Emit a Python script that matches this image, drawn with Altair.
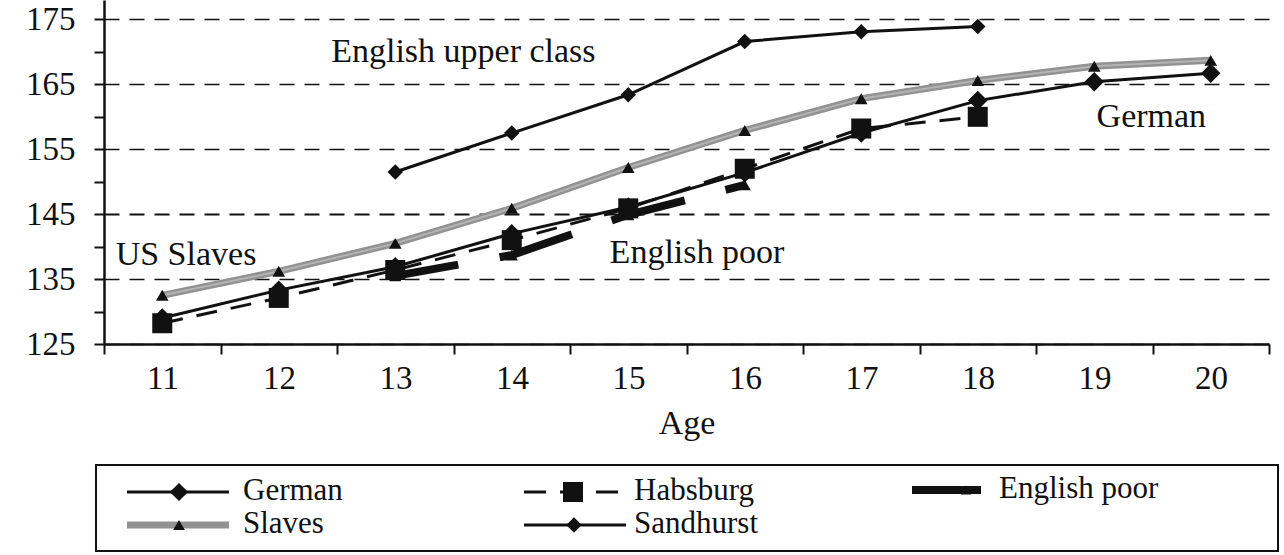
import altair as alt
import pandas as pd

FONT = "Liberation Serif"
FS_TICK = 33
FS_TEXT = 34

# ---- data ----
ages = [11, 12, 13, 14, 15, 16, 17, 18, 19, 20]
german = [129.0, 133.3, 136.9, 142.0, 146.1, 151.4, 157.5, 162.5, 165.4, 166.7]
slaves = [132.5, 136.2, 140.5, 145.9, 152.2, 157.9, 162.8, 165.6, 167.8, 168.7]
habsburg_ages = [11, 12, 13, 14, 15, 16, 17, 18]
habsburg = [128.2, 132.1, 136.4, 141.0, 145.9, 152.0, 158.2, 160.0]
poor_ages = [13, 14, 15, 16]
english_poor = [135.5, 138.7, 144.9, 149.5]
sandhurst_ages = [13, 14, 15, 16, 17, 18]
sandhurst = [151.5, 157.5, 163.4, 171.6, 173.1, 173.9]

legend_names = ["German", "Habsburg", "English poor", "Slaves", "Sandhurst"]

annot_text = ["English upper class", "US Slaves", "English poor", "German"]
annot_x = [12.45, 10.6, 14.84, 19.02]
annot_y = [168.4, 137.2, 137.5, 158.4]

x_ticks = [10.5, 11.5, 12.5, 13.5, 14.5, 15.5, 16.5, 17.5, 18.5, 19.5, 20.5]
y_ticks = [125, 130, 135, 140, 145, 150, 155, 160, 165, 170, 175]

W, H = 1165, 344

x_enc = alt.X(
    "age:Q",
    scale=alt.Scale(domain=[10.5, 20.5], nice=False, zero=False),
    axis=alt.Axis(
        values=x_ticks,
        # label each band centre: label drawn at the tick on the band's right, shifted left
        labelExpr="datum.value > 11 ? format(datum.value - 0.5, 'd') : ''",
        labelOffset=-58,
        labelFlush=False,
        labelOverlap=False,
        labelFont=FONT, labelFontSize=FS_TICK, labelColor="#111",
        labelPadding=8,
        tickSize=10, tickWidth=2, tickColor="#111",
        domainWidth=2.5, domainColor="#111",
        grid=False,
        title="Age", titleFont=FONT, titleFontSize=FS_TEXT, titleFontWeight="normal",
        titleColor="#111", titlePadding=11,
    ),
)

y_enc = alt.Y(
    "height:Q",
    scale=alt.Scale(domain=[125, 178], nice=False, zero=False),
    axis=alt.Axis(
        values=y_ticks,
        labelExpr="datum.value % 10 == 5 ? datum.label : ''",
        labelFont=FONT, labelFontSize=FS_TICK, labelColor="#111",
        labelPadding=19,
        tickSize=10, tickWidth=2, tickColor="#111",
        domainWidth=2.5, domainColor="#111",
        grid=True, gridColor="#111", gridDash=[15, 10],
        gridOpacity=alt.condition("datum.value % 10 == 5", alt.value(1), alt.value(0)),
        gridWidth=alt.condition("datum.value == 145", alt.value(2.2), alt.value(1.3)),
        title=None,
    ),
)


def frame(xs, ys):
    return pd.DataFrame({"age": xs, "height": ys})


def series(df, line_kw, point_kw):
    base = alt.Chart(df)
    ln = base.mark_line(**line_kw).encode(x=x_enc, y=y_enc)
    pt = base.mark_point(filled=True, opacity=1, **point_kw).encode(x=x_enc, y=y_enc)
    return ln, pt


g_ln, g_pt = series(frame(ages, german),
                    dict(color="#111", strokeWidth=3),
                    dict(shape="diamond", size=380, color="#111"))
h_ln, h_pt = series(frame(habsburg_ages, habsburg),
                    dict(color="#111", strokeWidth=3, strokeDash=[21, 14]),
                    dict(shape="square", size=400, color="#111"))
p_ln, p_pt = series(frame(poor_ages, english_poor),
                    dict(color="#111", strokeWidth=8, strokeDash=[76, 42], strokeDashOffset=12, strokeCap="butt"),
                    dict(shape="triangle-up", size=150, color="#111"))
s_df = frame(ages, slaves)
s_ln_outer = alt.Chart(s_df).mark_line(color="#929292", strokeWidth=7).encode(x=x_enc, y=y_enc)
s_ln_inner = alt.Chart(s_df).mark_line(color="#b4b4b4", strokeWidth=2).encode(x=x_enc, y=y_enc)
s_pt = alt.Chart(s_df).mark_point(filled=True, opacity=1, shape="triangle-up", size=160, color="#111").encode(x=x_enc, y=y_enc)
d_ln, d_pt = series(frame(sandhurst_ages, sandhurst),
                    dict(color="#111", strokeWidth=3),
                    dict(shape="diamond", size=240, color="#111"))

annot = alt.Chart(pd.DataFrame({"t": annot_text, "age": annot_x, "height": annot_y})).mark_text(
    align="left", baseline="alphabetic", font=FONT, fontSize=FS_TEXT, color="#111"
).encode(x=x_enc, y=y_enc, text="t:N")

main = alt.layer(
    g_ln, h_ln, p_ln, s_ln_outer, s_ln_inner, d_ln,
    g_pt, h_pt, p_pt, s_pt, d_pt, annot
).properties(width=W, height=H)

# ---- hand-built legend (box + swatches) ----
LH = 86
box = alt.Chart(pd.DataFrame({"n": [0]})).mark_rect(
    fill="white", stroke="#111", strokeWidth=2
).encode(x=alt.value(-8), x2=alt.value(1174), y=alt.value(0), y2=alt.value(LH))


def legend_item(i, x1, x2, mx, tx, y, line_kw, pt_kw):
    d = pd.DataFrame({"name": [legend_names[i]]})
    b = alt.Chart(d)
    r = b.mark_rule(**line_kw).encode(x=alt.value(x1), x2=alt.value(x2), y=alt.value(y))
    p = b.mark_point(filled=True, opacity=1, **pt_kw).encode(x=alt.value(mx), y=alt.value(y))
    t = b.mark_text(align="left", baseline="middle", font=FONT, fontSize=31, color="#111").encode(
        x=alt.value(tx), y=alt.value(y - 1), text="name:N")
    return [r, p, t]


leg_layers = [box]
leg_layers += legend_item(0, 23, 125, 75, 139, 27, dict(color="#111", strokeWidth=3),
                          dict(shape="diamond", size=330, color="#111"))
leg_layers += legend_item(1, 420, 518, 469, 530, 27, dict(color="#111", strokeWidth=3, strokeDash=[22, 14]),
                          dict(shape="square", size=400, color="#111"))
leg_layers += legend_item(2, 808, 877, 862, 895, 25, dict(color="#111", strokeWidth=8),
                          dict(shape="triangle-up", size=110, color="#111"))
leg_layers += legend_item(3, 23, 125, 75, 139, 60, dict(color="#929292", strokeWidth=7),
                          dict(shape="triangle-up", size=140, color="#111"))
leg_layers += legend_item(4, 420, 522, 470, 530, 60, dict(color="#111", strokeWidth=3),
                          dict(shape="diamond", size=240, color="#111"))

legend = alt.layer(*leg_layers).properties(width=W, height=LH)

chart = alt.vconcat(main, legend, spacing=24).properties(
    padding={"left": 25, "top": 0, "right": 0, "bottom": 0},
    background="white",
).configure_view(strokeWidth=0)

chart.save("out.html", embed_options={"renderer": "svg", "actions": False})
